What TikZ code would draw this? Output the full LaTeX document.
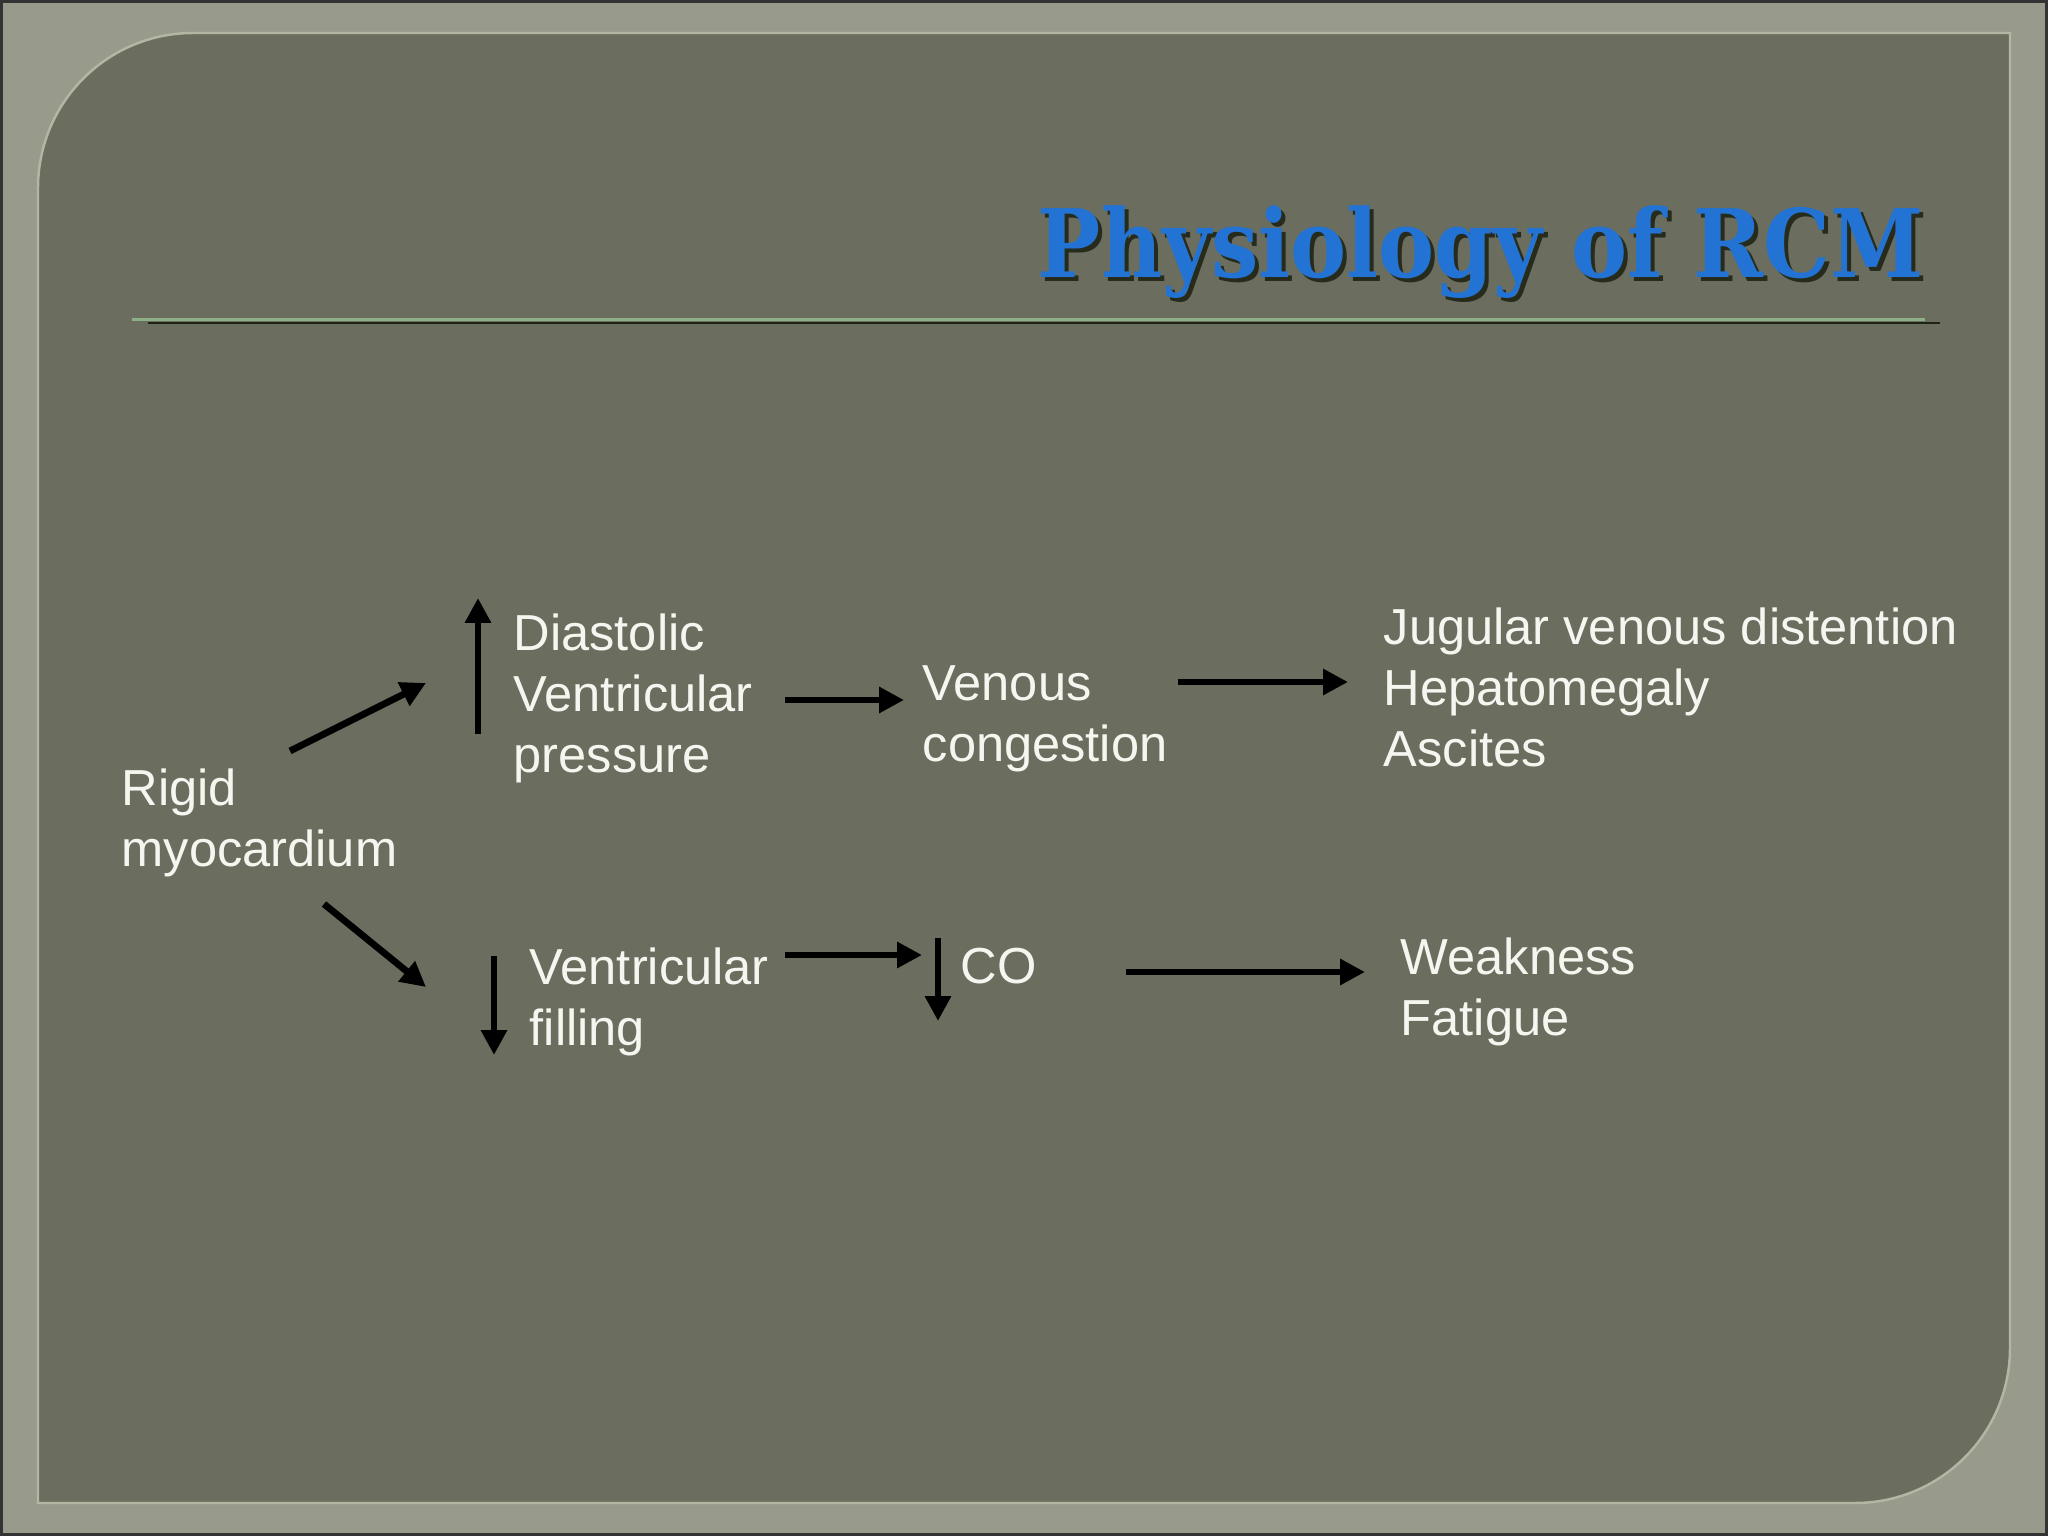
\documentclass[tikz,border=0pt]{standalone}
\usepackage{fontspec}
\setmainfont{Liberation Sans}
\newfontfamily\titlefont{DejaVu Serif}
\usepackage{graphicx}
\usepackage{tikz}
\usetikzlibrary{positioning, arrows.meta}

\definecolor{frame}{HTML}{989B8B}
\definecolor{panel}{HTML}{6B6D5F}
\definecolor{panelrim}{HTML}{B3B6A3}
\definecolor{titleblue}{HTML}{2273D4}
\definecolor{titleshadow}{HTML}{262B1C}
\definecolor{rulegreen}{HTML}{8DB088}
\definecolor{ruledark}{HTML}{1F2316}
\definecolor{ink}{HTML}{F6F6F0}

\begin{document}
\begin{tikzpicture}[
    x=1cm, y=-1cm,
    every node/.style={font=\fontsize{14.4}{17.4}\selectfont},
    txt/.style={anchor=north west, inner sep=0pt, align=left, text=ink},
    titletext/.style={anchor=base east, inner sep=0pt,
        font=\titlefont\bfseries\fontsize{26.9}{30}\selectfont},
    arr/.style={-{Triangle[length=0.25cm, width=0.25cm]}, line width=0.068cm, draw=black},
]
\useasboundingbox (0,0) rectangle (20.48,15.36);

% --- slide background ---
\fill[frame] (0,0) rectangle (20.48,15.36);
\draw[black!80, line width=0.03cm] (0.015,0.015) rectangle (20.465,15.345);
\path[fill=panel, draw=panelrim, line width=0.7pt]
    (0.38,15.03) -- (0.38,5) [rounded corners=1.55cm] -- (0.38,0.33) -- (10,0.33)
    [sharp corners] -- (20.10,0.33) -- (20.10,8)
    [rounded corners=1.55cm] -- (20.10,15.03) -- (10,15.03)
    [sharp corners] -- cycle;

% --- title ---
\node[titletext, text=titleshadow] (title-shadow) at (19.28,2.82) {\scalebox{0.89}[1]{Physiology of RCM}};
\node[titletext, text=titleblue] (title) at (19.24,2.78) {\scalebox{0.89}[1]{Physiology of RCM}};
\draw[rulegreen, line width=0.03cm] (1.32,3.20) -- (19.25,3.20);
\draw[ruledark, line width=0.02cm] (1.48,3.235) -- (19.40,3.235);

% --- text ---
\node[txt] (rm) at (1.21,7.68) {Rigid\\myocardium};
\node[txt] (dvp) at (5.13,6.13) {Diastolic\\Ventricular\\pressure};
\node[txt] (vc) at (9.22,6.65) {Venous\\congestion};
\node[txt] (jvd) at (13.83,6.07) {Jugular venous distention\\Hepatomegaly\\Ascites};
\node[txt] (vf) at (5.29,9.47) {Ventricular\\filling};
\node[txt] (co) at (9.60,9.47) {CO};
\node[txt] (wf) at (14.00,9.37) {Weakness\\Fatigue};

% --- upper branch ---
\coordinate (rm-up) at (2.90,7.51);
\coordinate (dvp-in) at (4.26,6.83);
\coordinate (dvp-lo) at (4.78,7.34);
\coordinate (dvp-hi) at (4.78,5.98);
\coordinate (dvp-out) at (7.85,7.00);
\coordinate (vc-in) at (9.04,7.00);
\coordinate (vc-out) at (11.78,6.82);
\coordinate (jvd-in) at (13.48,6.82);
\draw[arr] (rm-up) -- (dvp-in);
\draw[arr] (dvp-lo) -- (dvp-hi);
\draw[arr] (dvp-out) -- (vc-in);
\draw[arr] (vc-out) -- (jvd-in);

% --- lower branch ---
\coordinate (rm-down) at (3.24,9.04);
\coordinate (vf-in) at (4.26,9.87);
\coordinate (vf-hi) at (4.94,9.56);
\coordinate (vf-lo) at (4.94,10.55);
\coordinate (vf-out) at (7.85,9.55);
\coordinate (co-in) at (9.22,9.55);
\coordinate (co-hi) at (9.38,9.38);
\coordinate (co-lo) at (9.38,10.21);
\coordinate (co-out) at (11.26,9.72);
\coordinate (wf-in) at (13.65,9.72);
\draw[arr] (rm-down) -- (vf-in);
\draw[arr] (vf-hi) -- (vf-lo);
\draw[arr] (vf-out) -- (co-in);
\draw[arr] (co-hi) -- (co-lo);
\draw[arr] (co-out) -- (wf-in);

\end{tikzpicture}
\end{document}
